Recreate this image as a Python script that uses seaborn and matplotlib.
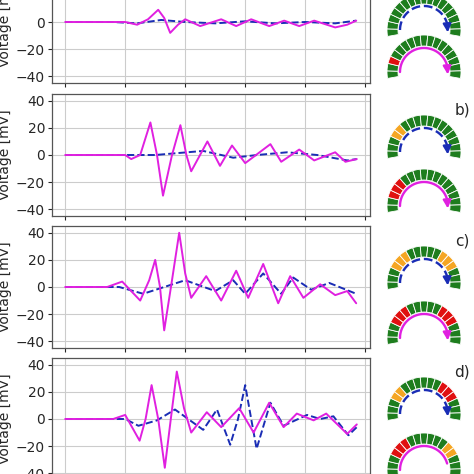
import numpy as np
import pandas as pd
import matplotlib
matplotlib.use("Agg")
import matplotlib.pyplot as plt
import seaborn as sns
from matplotlib.patches import Wedge

# ---- signal key points (time in arbitrary units, voltage in mV) ----
a_mag_t = [0, 0.5, 1.0, 1.2, 1.38, 1.55, 1.65, 1.75, 1.88, 2.0, 2.25, 2.6, 2.85, 3.1, 3.4, 3.65, 3.9, 4.15, 4.5, 4.7, 4.85]
a_mag_v = [0, 0, 0, -2, 2, 9, 3, -8, -2, 2, -3, 2, -3, 2, -3, 1, -3, 1, -4, -2, 1]
a_blu_t = [0, 0.8, 1.2, 1.6, 2.0, 2.5, 3.0, 3.5, 4.0, 4.5, 4.85]
a_blu_v = [0, 0, -1, 1.5, 0, -1, 0.5, -1, 0, -1, 1]

b_mag_t = [0, 1.0, 1.1, 1.25, 1.42, 1.53, 1.63, 1.78, 1.92, 2.02, 2.1, 2.37, 2.58, 2.78, 3.0, 3.42, 3.6, 3.9, 4.15, 4.5, 4.67, 4.86]
b_mag_v = [0, 0, -3, 0, 24, 0, -30, 0, 22, 0, -12, 10, -8, 7, -6, 8, -5, 4, -4, 2, -5, -3]
b_blu_t = [0, 1.0, 1.5, 2.3, 2.8, 3.2, 3.7, 4.2, 4.7, 4.86]
b_blu_v = [0, 0, 0, 3, -2, 0, 2, 0, -4, -3]

c_mag_t = [0, 0.7, 0.95, 1.25, 1.4, 1.5, 1.58, 1.65, 1.78, 1.9, 2.0, 2.1, 2.35, 2.6, 2.85, 3.05, 3.3, 3.55, 3.75, 3.97, 4.25, 4.5, 4.7, 4.85]
c_mag_v = [0, 0, 4, -10, 5, 20, 0, -32, 5, 40, 10, -8, 8, -10, 12, -8, 17, -12, 8, -8, 2, -6, -3, -12]
c_blu_t = [0, 0.9, 1.3, 2.0, 2.5, 2.8, 3.0, 3.3, 3.6, 3.8, 4.1, 4.4, 4.85]
c_blu_v = [0, 0, -5, 5, -3, 5, -5, 10, -5, 7, -2, 3, -5]

d_mag_t = [0, 0.8, 1.0, 1.24, 1.34, 1.44, 1.55, 1.66, 1.76, 1.86, 1.98, 2.1, 2.36, 2.6, 2.9, 3.14, 3.4, 3.64, 3.86, 4.14, 4.35, 4.7, 4.86]
d_mag_v = [0, 0, 3, -16, 0, 25, 0, -36, 0, 35, 8, -10, 5, -6, 8, -10, 12, -6, 4, -1, 4, -11, -4]
d_blu_t = [0, 1.0, 1.22, 1.53, 1.83, 2.3, 2.53, 2.75, 2.88, 3.0, 3.1, 3.19, 3.42, 3.64, 4.03, 4.25, 4.47, 4.72, 4.86]
d_blu_v = [0, 0, -5, -1, 7, -8, 7, -19, 0, 25, 0, -22, 12, -5, 3, 0, 2, -12, -6]

panels = [
    ("a)", a_mag_t, a_mag_v, a_blu_t, a_blu_v),
    ("b)", b_mag_t, b_mag_v, b_blu_t, b_blu_v),
    ("c)", c_mag_t, c_mag_v, c_blu_t, c_blu_v),
    ("d)", d_mag_t, d_mag_v, d_blu_t, d_blu_v),
]

# ---- gauge segment colours (index 0 = lower left) ----
N_SEG = 17
G, O, R = "#1e7d1e", "#f5a623", "#e01010"
def seg_colors(orange=(), red=()):
    return [O if i in orange else R if i in red else G for i in range(N_SEG)]
gauges = [
    (seg_colors(), seg_colors(red=(2,))),
    (seg_colors(orange=(3, 4)), seg_colors(red=(2, 3, 4))),
    (seg_colors(orange=(3, 4, 5, 11, 12, 13)), seg_colors(red=(3, 4, 5, 11, 12, 13))),
    (seg_colors(orange=(3, 4), red=(11, 12, 13)), seg_colors(red=(3, 4, 5), orange=(12, 13))),
]

sns.set_style("whitegrid", {"axes.edgecolor": "#555555", "grid.color": "#cccccc"})
plt.rcParams["font.family"] = ["DejaVu Sans"]
W = 474
fig = plt.figure(figsize=(4.74, 4.74), dpi=100)

zero_px = [22, 155, 287, 419]
for (lab, mt, mv, bt, bv), z in zip(panels, zero_px):
    top = z - 61
    ax = fig.add_axes([52 / W, 1 - (top + 122) / W, 318 / W, 122 / W])
    df_m = pd.DataFrame({"t": mt, "v": mv})
    df_b = pd.DataFrame({"t": bt, "v": bv})
    sns.lineplot(data=df_b, x="t", y="v", ax=ax, color="#1a2db5", linestyle="--", lw=1.4)
    sns.lineplot(data=df_m, x="t", y="v", ax=ax, color="#e020e0", lw=1.4)
    ax.set_xlim(-0.22, 5.08)
    ax.set_ylim(-45, 45)
    ax.set_yticks([-40, -20, 0, 20, 40])
    ax.set_xticks([0, 1, 2, 3, 4, 5])
    ax.set_xticklabels([])
    ax.set_xlabel("")
    ax.set_ylabel("Voltage [mV]", fontsize=10, labelpad=3)
    ax.tick_params(labelsize=10, pad=2, length=3, bottom=True, left=True)
    for s in ax.spines.values():
        s.set_linewidth(0.9)

# ---- gauge icons on the right ----
gx = fig.add_axes([370 / W, 0, 104 / W, 1])
gx.set_xlim(370, 474)
gx.set_ylim(0, 474)
gx.axis("off")
cx = 424
r_out, ring = 37, 11
span0, span1 = 190, -10
step = (span0 - span1) / N_SEG
bases = [(30, 72), (152, 206), (283, 338), (414, 470)]
for (lab, *_), (cols_top, cols_bot), (b1, b2) in zip(panels, gauges, bases):
    for base, cols, style in [(b1, cols_top, "blue"), (b2, cols_bot, "mag")]:
        yc = W - base
        for i, c in enumerate(cols):
            th2 = span0 - i * step
            th1 = th2 - step
            gx.add_patch(Wedge((cx, yc), r_out, th1, th2, width=ring,
                               facecolor=c, edgecolor="white", lw=0.6))
        th = np.linspace(np.pi, -0.05, 60)
        rr = 24
        xs, ys = cx + rr * np.cos(th), yc + rr * np.sin(th)
        col = "#1a2db5" if style == "blue" else "#e020e0"
        ls = "--" if style == "blue" else "-"
        gx.plot(xs[:-6], ys[:-6], color=col, ls=ls, lw=1.7)
        gx.annotate("", xy=(xs[-1], ys[-1] - 4), xytext=(xs[-7], ys[-7]),
                    arrowprops=dict(arrowstyle="-|>", color=col, lw=1.6, mutation_scale=12))
    if lab != "a)":
        gx.text(462, W - (b1 - 42), lab, fontsize=11, ha="center", va="center")

fig.savefig("out.png", dpi=100)
